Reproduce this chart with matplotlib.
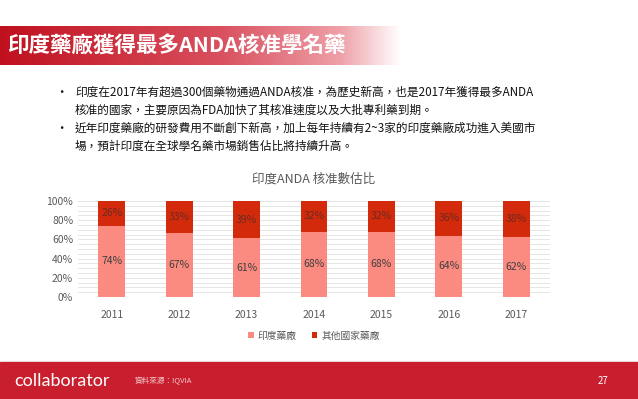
import numpy as np
import matplotlib.pyplot as plt
from matplotlib.colors import LinearSegmentedColormap
from matplotlib.patches import Rectangle

plt.rcParams['font.family'] = ['Noto Sans CJK TC', 'DejaVu Sans']

years = ['2011', '2012', '2013', '2014', '2015', '2016', '2017']
india = [74, 67, 61, 68, 68, 64, 62]
others = [26, 33, 39, 32, 32, 36, 38]
series_names = ['印度藥廠', '其他國家藥廠']
yticks = [0, 20, 40, 60, 80, 100]

title = '印度藥廠獲得最多ANDA核准學名藥'
bullets = [
    '印度在2017年有超過300個藥物通過ANDA核准，為歷史新高，也是2017年獲得最多ANDA\n核准的國家，主要原因為FDA加快了其核准速度以及大批專利藥到期。',
    '近年印度藥廠的研發費用不斷創下新高，加上每年持續有2~3家的印度藥廠成功進入美國市\n場，預計印度在全球學名藥市場銷售佔比將持續升高。',
]
chart_title = '印度ANDA 核准數估比'

W, H = 638, 399
fig = plt.figure(figsize=(W / 100, H / 100), dpi=100)

# title band with gradient
band = fig.add_axes([0, 1 - 65 / H, 400 / W, 39 / H])
cmap = LinearSegmentedColormap.from_list(
    'band', [(0, '#c0101e'), (0.55, '#d9505e'), (0.85, '#eea0a8'), (1, '#ffffff')])
band.imshow(np.linspace(0, 1, 256)[None, :], aspect='auto', cmap=cmap, extent=[0, 1, 0, 1])
band.set_axis_off()
fig.text(8 / W, 1 - 46 / H, title, color='white', fontsize=15.5, fontweight='bold', va='center')

# bullets
for i, txt in enumerate(bullets):
    y = 1 - (86 + i * 36) / H
    fig.text(55 / W, y, '•', fontsize=9, va='top', color='#111111')
    fig.text(75 / W, y, txt, fontsize=8.4, va='top', color='#111111', linespacing=1.45,
             fontweight='medium')

# footer
fig.patches.append(Rectangle((0, 0), 1, 37 / H, transform=fig.transFigure,
                             color='#c81e2d', zorder=0))
fig.text(14 / W, 18 / H, 'collaborator', color='white', fontsize=13, va='center',
         family=['Lato', 'DejaVu Sans'])
fig.text(135 / W, 18 / H, '資料來源：IQVIA', color='#f3c8cc', fontsize=5.5, va='center')
fig.text(598 / W, 18 / H, '27', color='white', fontsize=7, va='center')

# chart
ax = fig.add_axes([78 / W, 1 - 297 / H, (550 - 78) / W, (297 - 201) / H])
x = np.arange(len(years))
c1, c2 = '#fb8a80', '#d42a0c'
ax.bar(x, india, width=0.4, color=c1, label=series_names[0], zorder=3)
ax.bar(x, others, width=0.4, bottom=india, color=c2, label=series_names[1], zorder=3)
for i in range(len(years)):
    ax.text(x[i], india[i] / 2, f'{india[i]}%', ha='center', va='center', fontsize=7.5,
            color='#404040', zorder=4)
    ax.text(x[i], india[i] + others[i] / 2, f'{others[i]}%', ha='center', va='center',
            fontsize=7.5, color='#6b2a20', zorder=4)
ax.set_xlim(-0.5, len(years) - 0.5)
ax.set_ylim(0, 100)
ax.set_yticks(yticks)
ax.set_yticklabels([f'{t}%' for t in yticks])
ax.set_yticks(np.arange(0, 101, 5), minor=True)
ax.set_xticks(x)
ax.set_xticklabels(years)
ax.tick_params(length=0, labelsize=7.5, colors='#595959')
ax.tick_params(axis='x', pad=9)
ax.tick_params(axis='y', which='minor', length=0)
ax.grid(axis='y', which='both', color='#e6e6e6', lw=0.7, zorder=0)
for s in ax.spines.values():
    s.set_visible(False)
ax.set_title(chart_title, fontsize=9, color='#595959', pad=13)
ax.legend(loc='upper center', bbox_to_anchor=(0.5, -0.26), ncol=2, frameon=False,
          fontsize=7, handlelength=0.6, handleheight=0.6, columnspacing=1.5,
          handletextpad=0.4, labelcolor='#595959')

fig.savefig('out.png', dpi=100)
